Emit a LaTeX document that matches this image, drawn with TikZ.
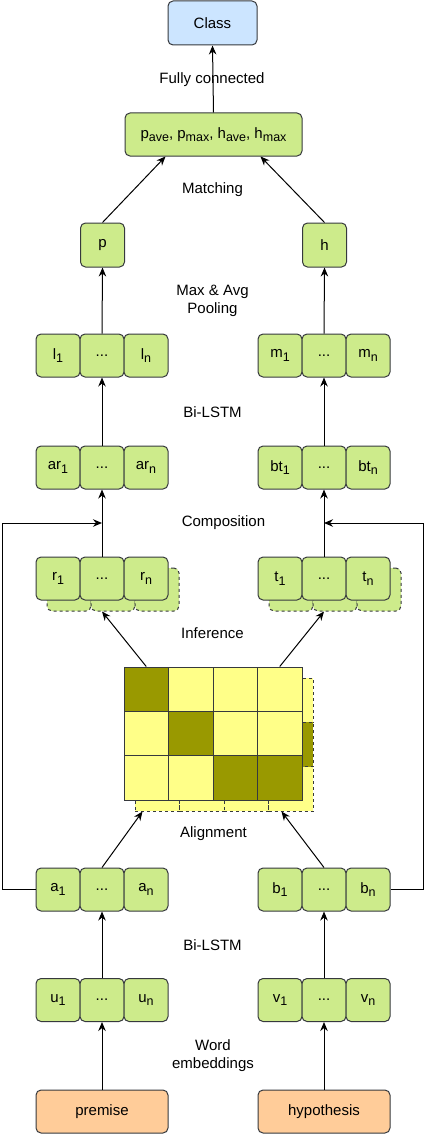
\documentclass[tikz,border=0pt]{standalone}
\usepackage{fontspec}
\setmainfont{Liberation Sans}
\usetikzlibrary{arrows.meta,calc}
\definecolor{grn}{HTML}{CDEB8B}
\definecolor{edge}{HTML}{36393D}
\definecolor{blu}{HTML}{CCE5FF}
\definecolor{org}{HTML}{FFCC99}
\definecolor{lite}{HTML}{FFFF88}
\definecolor{dark}{HTML}{999900}
\newcommand\sbs[1]{\raisebox{-3.5pt}{\fontsize{12.5}{13}\selectfont #1}}
\newcommand\triple[6]{%
  \node[cell] (#1a) at (#2-44,#3) {#4};
  \node[cell] (#1b) at (#2,#3) {#5};
  \node[cell] (#1c) at (#2+44,#3) {#6};}
\newcommand\shadowtriple[3]{%
  \node[cell,dashed] (#1a) at (#2-33,#3+11) {};
  \node[cell,dashed] (#1b) at (#2+11,#3+11) {};
  \node[cell,dashed] (#1c) at (#2+55,#3+11) {};}
\begin{document}
\begin{tikzpicture}[x=1pt,y=-1pt,
  every node/.style={font=\fontsize{15}{18}\selectfont},
  cell/.style={draw=edge, fill=grn, rounded corners=5pt, minimum width=44pt, minimum height=43pt, inner sep=0pt, line width=1pt},
  wide/.style={cell, minimum width=132pt},
  mcell/.style={draw=edge, fill=lite, minimum width=44.5pt, minimum height=44.33pt, inner sep=0pt, line width=1pt},
  lbl/.style={align=center, inner sep=1pt},
  arr/.style={line width=1pt, draw=black, -{Stealth[length=9pt,width=7.5pt]}},
  ln/.style={line width=1pt, draw=black}]
\useasboundingbox (0,0) rectangle (426,1137);
% top
\node[cell, fill=blu, minimum width=89pt, minimum height=44pt] (cls) at (212.5,23) {Class};
\node[cell, minimum width=177pt] (pbox) at (213.5,134.5) {p\sbs{ave}, p\sbs{max}, h\sbs{ave}, h\sbs{max}};
\node[cell, minimum height=44pt] (p) at (102.5,245) {p};
\node[cell, minimum height=44pt] (h) at (324.5,245) {h};
% rows
\triple{l}{102}{355.5}{l\sbs{1}}{...}{l\sbs{n}}
\triple{m}{324}{355.5}{m\sbs{1}}{...}{m\sbs{n}}
\triple{ar}{102}{467.5}{ar\sbs{1}}{...}{ar\sbs{n}}
\triple{bt}{324}{467.5}{bt\sbs{1}}{...}{bt\sbs{n}}
\shadowtriple{rs}{102}{578.5}
\shadowtriple{ts}{324}{578.5}
\triple{r}{102}{578.5}{r\sbs{1}}{...}{r\sbs{n}}
\triple{t}{324}{578.5}{t\sbs{1}}{...}{t\sbs{n}}
\triple{a}{102}{889.5}{a\sbs{1}}{...}{a\sbs{n}}
\triple{b}{324}{889.5}{b\sbs{1}}{...}{b\sbs{n}}
\triple{u}{102}{1000}{u\sbs{1}}{...}{u\sbs{n}}
\triple{v}{324}{1000}{v\sbs{1}}{...}{v\sbs{n}}
\node[wide, fill=org] (prem) at (102,1111.5) {premise};
\node[wide, fill=org] (hyp) at (324,1111.5) {hypothesis};
% alignment matrix (shadow then main)
\foreach \r in {0,1,2} \foreach \c in {0,...,3} {
  \node[mcell, dashed] (s\r\c) at (135+22.25+\c*44.5, 678+22.17+\r*44.33) {};
}
\node[mcell, dashed, fill=dark] at (s13) {};
\foreach \r in {0,1,2} \foreach \c in {0,...,3} {
  \node[mcell] (g\r\c) at (124+22.25+\c*44.5, 667+22.17+\r*44.33) {};
}
\node[mcell, fill=dark] at (g00) {};
\node[mcell, fill=dark] at (g11) {};
\node[mcell, fill=dark] at (g22) {};
\node[mcell, fill=dark] at (g23) {};
% labels
\node[lbl] (t1) at (212,80) {Fully connected};
\node[lbl] (t2) at (212.5,190) {Matching};
\node[lbl] (t3) at (212.5,300.5) {Max \& Avg\\Pooling};
\node[lbl] (t4) at (212.5,412) {Bi-LSTM};
\node[lbl] (t5) at (223.5,523) {Composition};
\node[lbl] (t6) at (212.5,633) {Inference};
\node[lbl] (t7) at (213.5,834) {Alignment};
\node[lbl] (t8) at (212.5,945) {Bi-LSTM};
\node[lbl] (t9) at (213,1056) {Word\\embeddings};
% connectors
\draw[arr] (pbox.north) -- (cls.south);
\draw[arr] (p.north) -- ($(pbox.south west)+(41,0)$);
\draw[arr] (h.north) -- ($(pbox.south east)+(-42,0)$);
\draw[arr] (lb.north) -- (p.south);
\draw[arr] (mb.north) -- (h.south);
\draw[arr] (arb.north) -- (lb.south);
\draw[arr] (btb.north) -- (mb.south);
\draw[arr] (rb.north) -- (arb.south);
\draw[arr] (tb.north) -- (btb.south);
\coordinate (cl) at (102,523);
\coordinate (cr) at (324,523);
\draw[arr] (aa.west) -- ++(-33,0) |- (cl);
\draw[arr] (bc.east) -- ++(33,0) |- (cr);
\draw[arr] (g00.north) -- (rb.south |- rsb.south);
\draw[arr] (g03.north) -- (tb.south |- tsb.south);
\draw[arr] (ab.north) -- ($(s20.south west)+(8,0)$);
\draw[arr] (bb.north) -- ($(s23.south west)+(13.5,0)$);
\draw[arr] (ub.north) -- (ab.south);
\draw[arr] (vb.north) -- (bb.south);
\draw[arr] (prem.north) -- (ub.south);
\draw[arr] (hyp.north) -- (vb.south);
\end{tikzpicture}
\end{document}
